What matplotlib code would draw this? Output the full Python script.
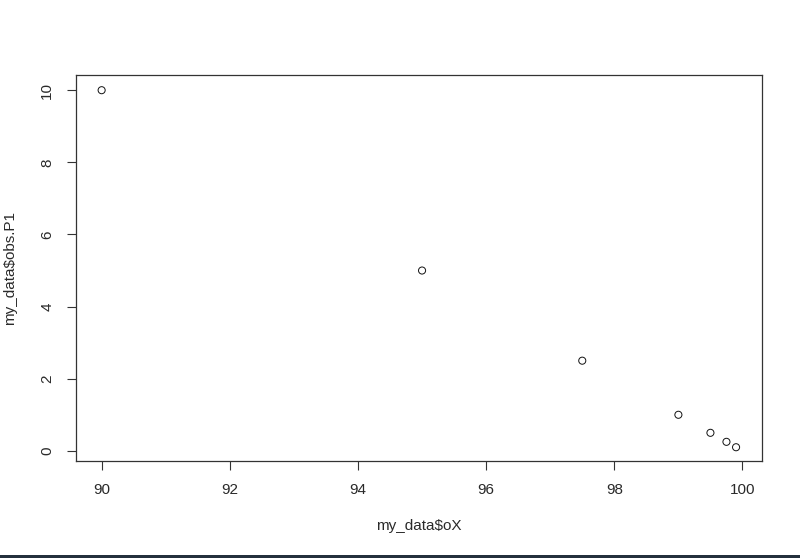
import numpy as np
import matplotlib
matplotlib.use("Agg")
import matplotlib.pyplot as plt
from matplotlib.patches import Rectangle

# data
obs_x = [90, 95, 97.5, 99, 99.5, 99.75, 99.9]
obs_p1 = [10, 5, 2.5, 1, 0.5, 0.25, 0.1]
x_ticks = [90, 92, 94, 96, 98, 100]
y_ticks = [0, 2, 4, 6, 8, 10]

plt.rcParams['font.family'] = ['Liberation Sans', 'DejaVu Sans']
W, H = 800, 558
fig = plt.figure(figsize=(W/100, H/100), dpi=100)
ax = fig.add_axes([76/W, 1-461.3/H, (761.7-76)/W, (461.3-74.7)/H])

ax.scatter(obs_x, obs_p1, s=26, facecolors="none", edgecolors="#111111", linewidths=0.7)
ax.set_xlim(89.6, 100.3)
ax.set_ylim(-0.29, 10.43)

ax.set_xticks(x_ticks)
ax.set_yticks(y_ticks)
ax.set_xticklabels([str(v) for v in x_ticks])
ax.set_yticklabels([str(v) for v in y_ticks], rotation=90, va="center")
ax.tick_params(axis="both", length=6.7, width=0.8, color="#333333",
               labelsize=11, labelcolor="#2a2a2a", pad=9)
for sp in ax.spines.values():
    sp.set_color("#333333")
    sp.set_linewidth(0.9)

fig.text(419/W, 1-526/H, "my_data$oX", ha="center", va="center", fontsize=11, color="#2a2a2a")
fig.text(10/W, 1-268/H, "my_data$obs.P1", ha="center", va="center", rotation=90,
         fontsize=11, color="#2a2a2a")

# dark strip along the bottom edge of the screenshot
fig.add_artist(Rectangle((0, 0), 1, 3.5/H, transform=fig.transFigure,
                         facecolor="#24313d", edgecolor="none"))

fig.savefig("out.png", dpi=100)
